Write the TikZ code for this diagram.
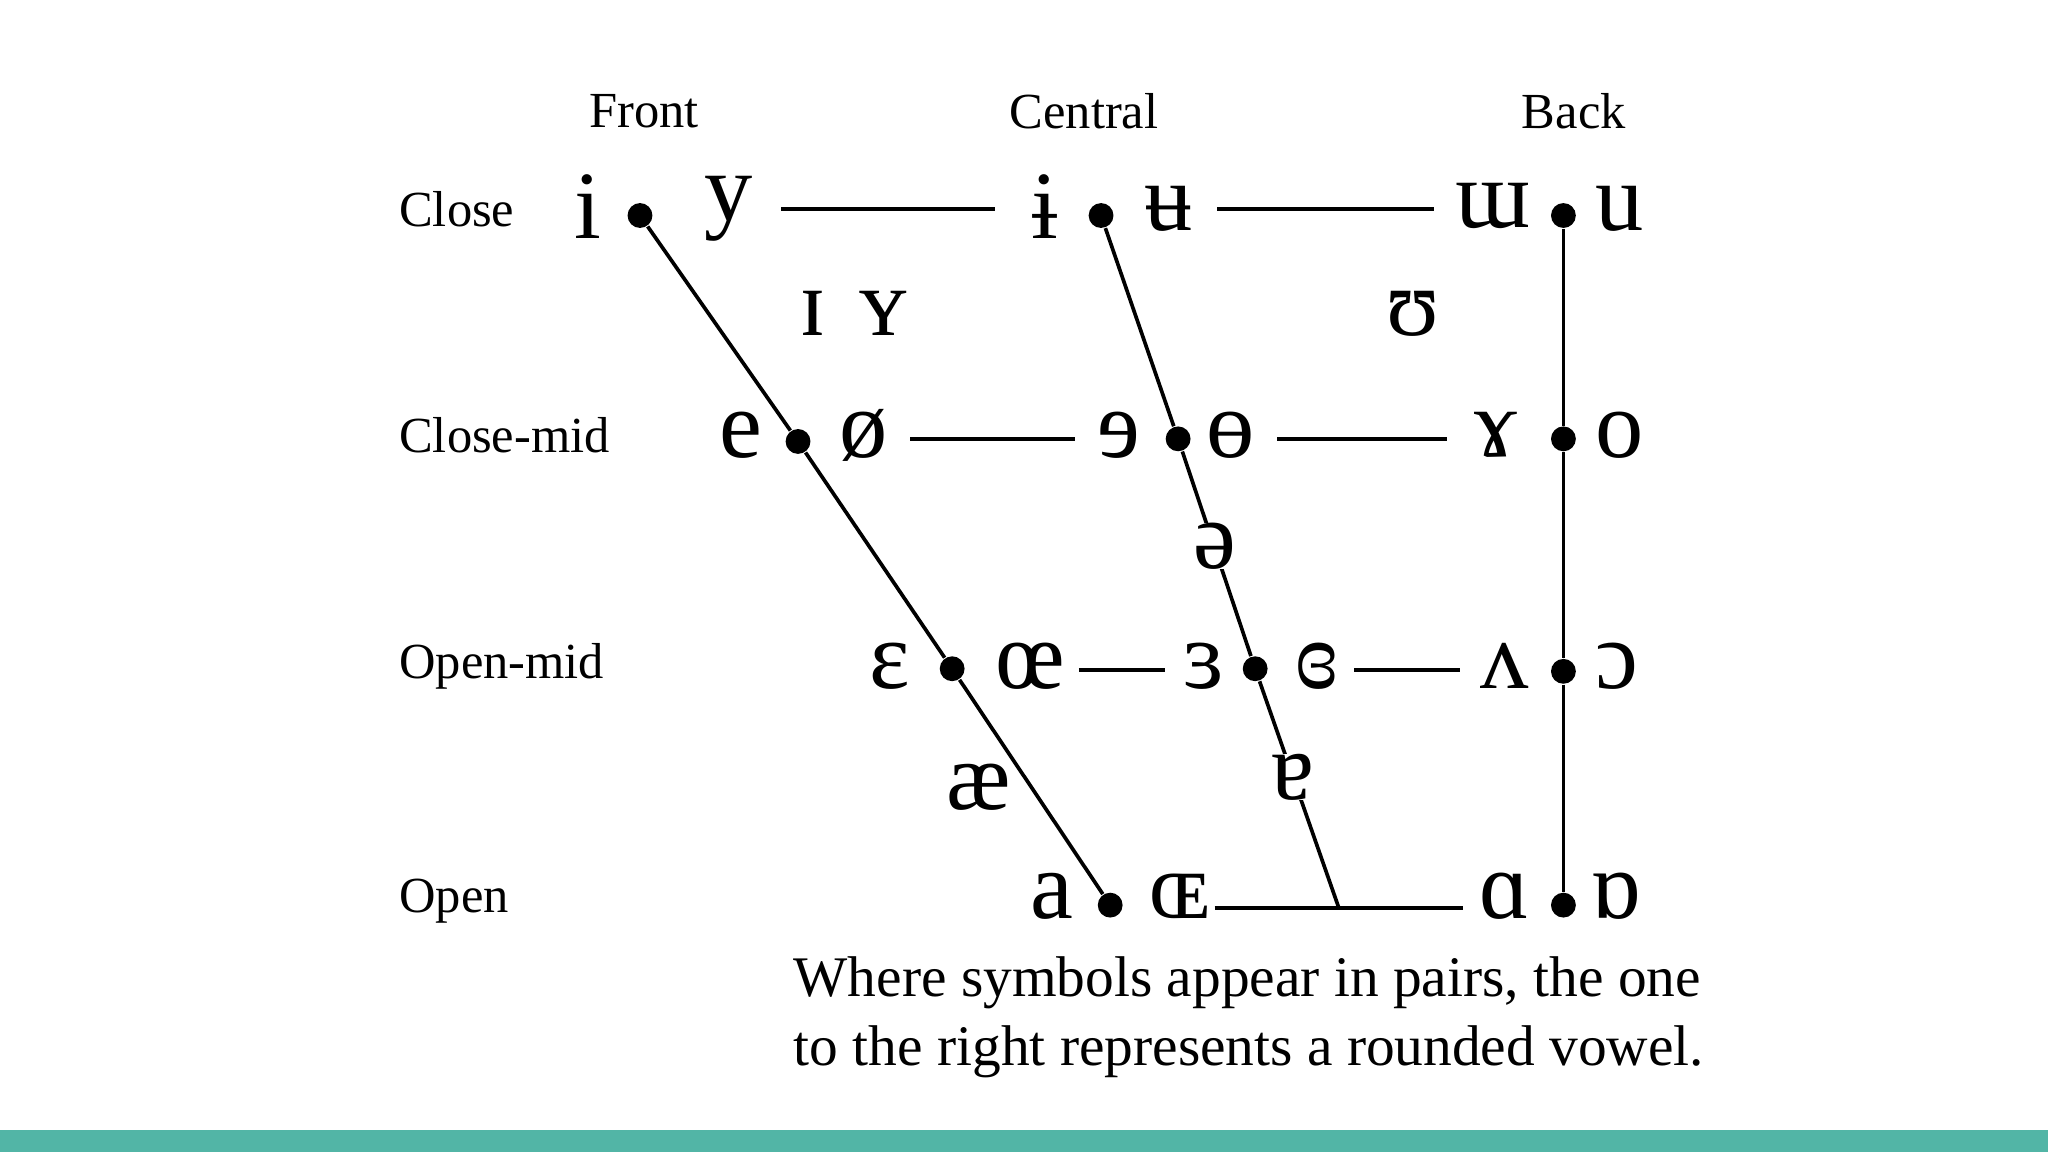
\documentclass[tikz,border=0pt]{standalone}
\usepackage{fontspec}
\setmainfont{Liberation Serif}
\definecolor{teal}{HTML}{52B5A6}
\begin{document}
\begin{tikzpicture}[x=0.01cm,y=-0.01cm,
  lab/.style={font=\fontsize{11}{13}\selectfont,inner sep=0},
  sym/.style={font=\fontsize{21}{21}\selectfont,inner sep=1pt},
  dot/.style={circle,fill=black,inner sep=0,minimum size=0.19cm},
  ln/.style={line width=0.8pt}]
\useasboundingbox (0,0) rectangle (1568,882);
\fill[teal] (0,865) rectangle (1568,882);
% headers
\node[lab] (hf) at (493,85) {Front};
\node[lab] (hc) at (830,85) {Central};
\node[lab] (hb) at (1205,85) {Back};
\node[lab,anchor=west] (r1) at (305,160) {Close};
\node[lab,anchor=west] (r2) at (305,333) {Close-mid};
\node[lab,anchor=west] (r3) at (305,510) {Open-mid};
\node[lab,anchor=west] (r4) at (305,690) {Open};
% dots
\node[dot] (f1) at (490,165) {}; \node[dot] (c1) at (843,165) {}; \node[dot] (b1) at (1197,165) {};
\node[dot] (f2) at (611,338) {}; \node[dot] (c2) at (902,336) {}; \node[dot] (b2) at (1197,336) {};
\node[dot] (f3) at (729,512) {}; \node[dot] (c3) at (961,512) {}; \node[dot] (b3) at (1197,514) {};
\node[dot] (f4) at (850,693) {}; \node[dot] (b4) at (1197,693) {};
\coordinate (c4) at (1025,695);
% horizontal line ends
\coordinate (h1a) at (598,160); \coordinate (h1b) at (762,160);
\coordinate (h1c) at (932,160); \coordinate (h1d) at (1098,160);
\coordinate (h2a) at (697,336); \coordinate (h2b) at (823,336);
\coordinate (h2c) at (978,336); \coordinate (h2d) at (1108,336);
\coordinate (h3a) at (826,513); \coordinate (h3b) at (892,513);
\coordinate (h3c) at (1037,513); \coordinate (h3d) at (1118,513);
\coordinate (h4a) at (930,695); \coordinate (h4b) at (1120,695);
\draw[ln] (f1)--(f2)--(f3)--(f4);
\draw[ln] (c1)--(c2)--(c3)--(c4);
\draw[ln] (b1)--(b2)--(b3)--(b4);
\draw[ln] (h1a)--(h1b); \draw[ln] (h1c)--(h1d);
\draw[ln] (h2a)--(h2b); \draw[ln] (h2c)--(h2d);
\draw[ln] (h3a)--(h3b); \draw[ln] (h3c)--(h3d);
\draw[ln] (h4a)--(h4b);
% symbols
\node[sym] (s1) at (450,158) {i}; \node[sym] (s2) at (558,160) {y};
\node[sym] (s3) at (800,158) {ɨ}; \node[sym] (s4) at (895,160) {ʉ};
\node[sym] (s5) at (1143,158) {ɯ}; \node[sym] (s6) at (1240,160) {u};
\node[sym] (s7) at (622,240) {ɪ}; \node[sym] (s8) at (676,240) {ʏ};
\node[sym] (s9) at (1082,240) {ʊ};
\node[sym] (s10) at (567,333) {e}; \node[sym] (s11) at (661,333) {ø};
\node[sym] (s12) at (857,333) {ɘ}; \node[sym] (s13) at (942,333) {ɵ};
\node[sym] (s14) at (1145,333) {ɤ}; \node[sym] (s15) at (1240,333) {o};
\node[sym,fill=white,inner sep=0pt] (s16) at (930,418) {ə};
\node[sym] (s17) at (681,510) {ɛ}; \node[sym] (s18) at (789,510) {œ};
\node[sym] (s19) at (922,510) {ɜ}; \node[sym] (s20) at (1008,510) {ɞ};
\node[sym] (s21) at (1152,510) {ʌ}; \node[sym] (s22) at (1238,510) {ɔ};
\node[sym] (s23) at (749,603) {æ};
\node[sym,fill=white,inner sep=0pt] (s24) at (990,595) {ɐ};
\node[sym] (s25) at (805,686) {a}; \node[sym] (s26) at (903,686) {ɶ};
\node[sym] (s27) at (1152,686) {ɑ}; \node[sym] (s28) at (1237,686) {ɒ};
\node[lab,anchor=north west,align=left,font=\fontsize{12.5}{15}\selectfont] (cap) at (607,732)
 {Where symbols appear in pairs, the one\\to the right represents a rounded vowel.};
\end{tikzpicture}
\end{document}
